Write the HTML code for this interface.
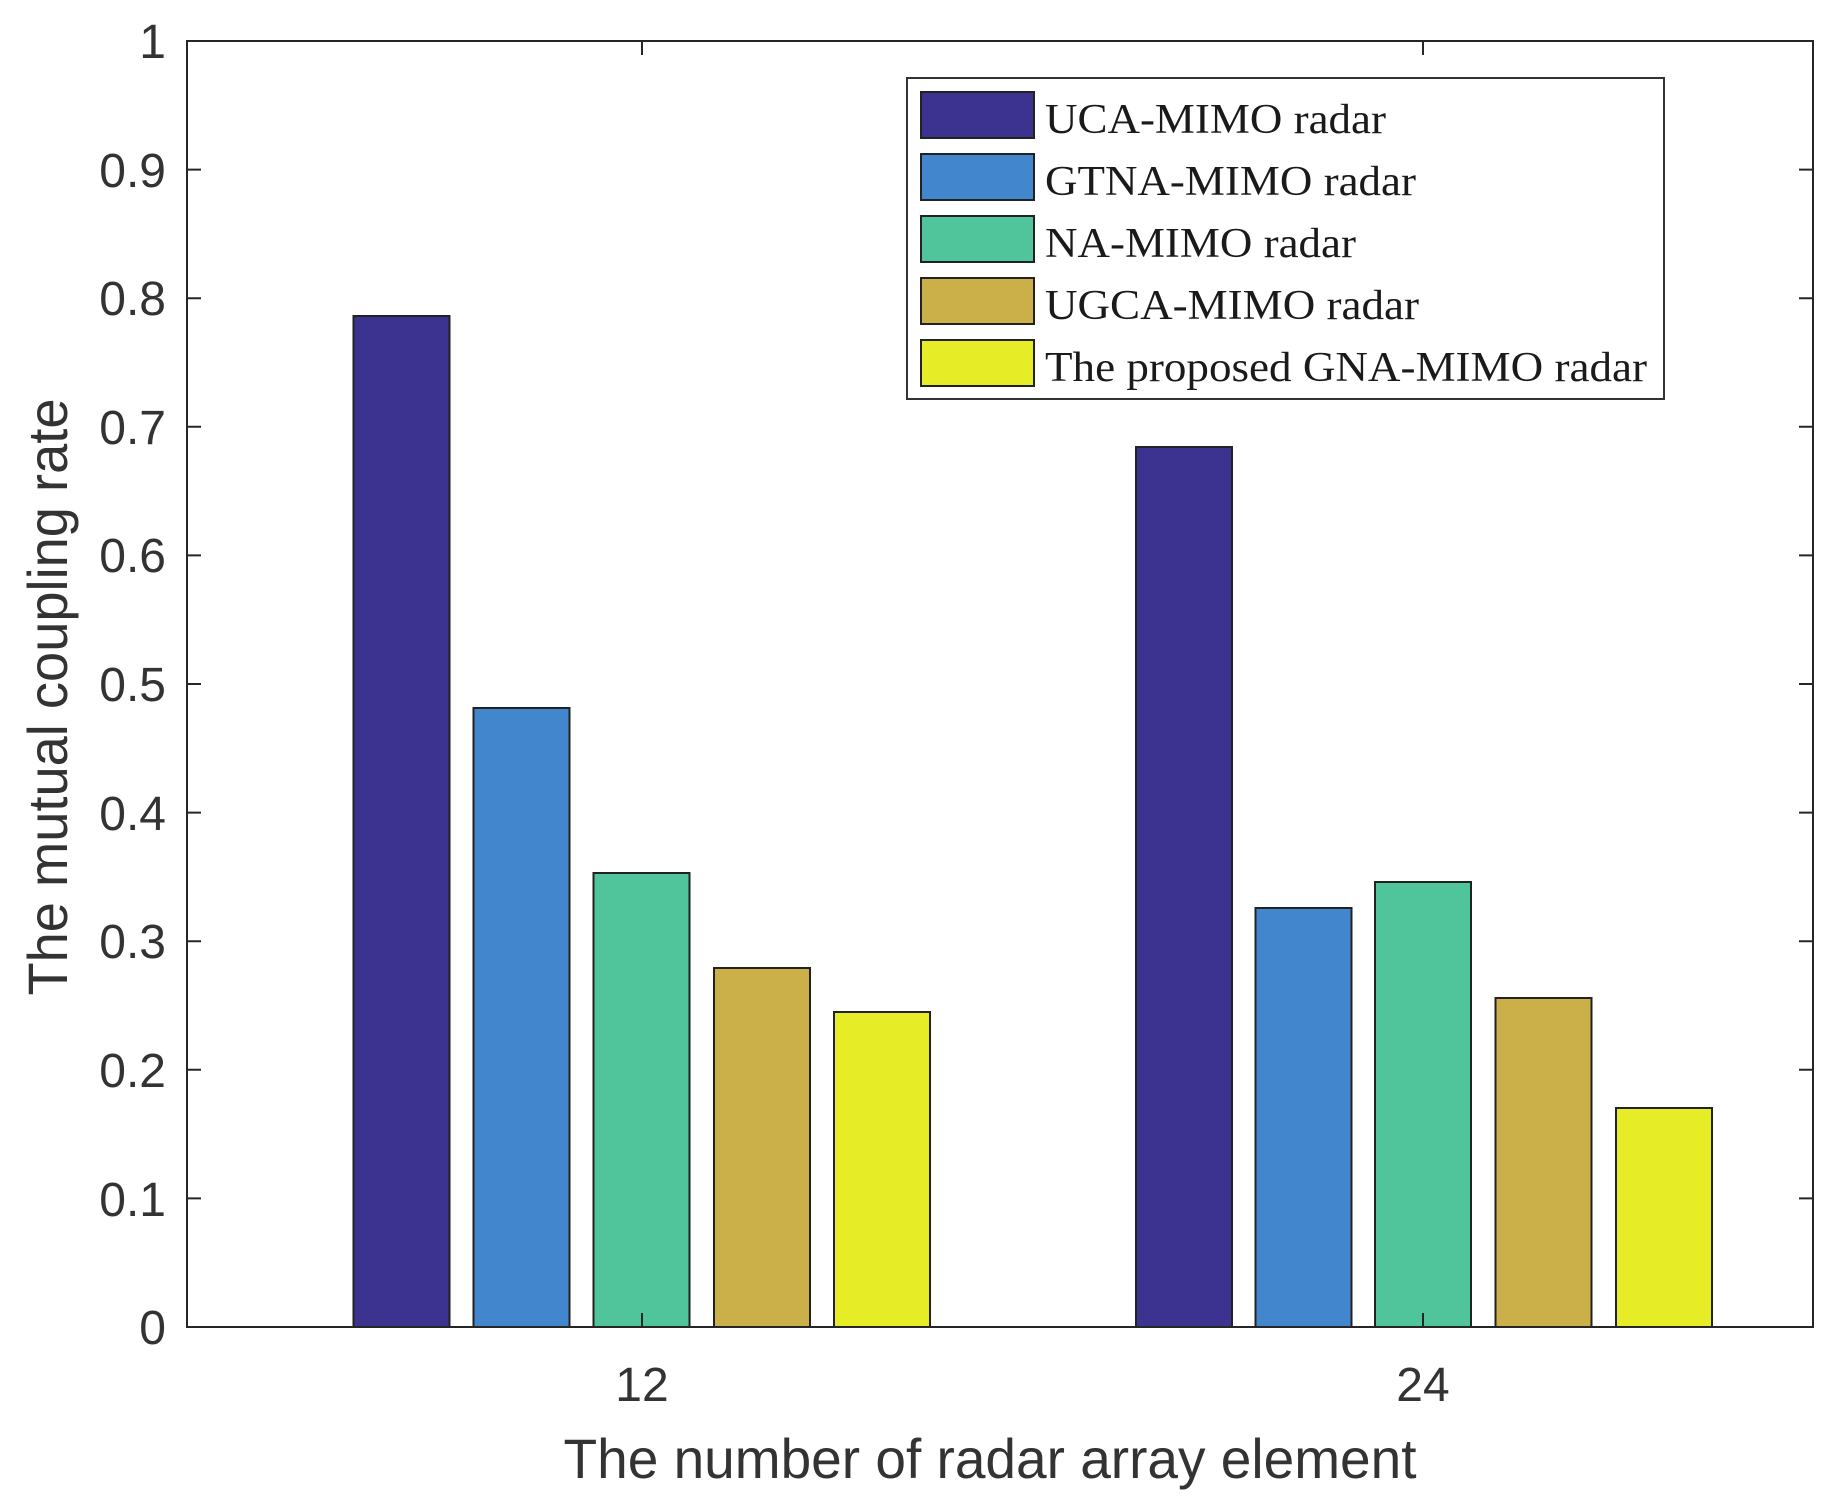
<!DOCTYPE html>
<html><head><style>body{margin:0;background:#fff}svg{display:block}</style></head><body>
<svg width="1836" height="1500" xmlns="http://www.w3.org/2000/svg">
<rect width="1836" height="1500" fill="#fff"/>
<g stroke="#222" stroke-width="2">
<rect x="353.5" y="316" width="96" height="1011" fill="#3c3390"/>
<rect x="473.5" y="708" width="96" height="619" fill="#4287ce"/>
<rect x="593.5" y="873" width="96" height="454" fill="#50c49a"/>
<rect x="714" y="968" width="96" height="359" fill="#cbaf49"/>
<rect x="834" y="1012" width="96" height="315" fill="#e6ec26"/>
<rect x="1136" y="447" width="96" height="880" fill="#3c3390"/>
<rect x="1255.5" y="908" width="96" height="419" fill="#4287ce"/>
<rect x="1375" y="882" width="96" height="445" fill="#50c49a"/>
<rect x="1495.5" y="998" width="96" height="329" fill="#cbaf49"/>
<rect x="1616" y="1108" width="96" height="219" fill="#e6ec26"/>
</g>
<g stroke="#262626" stroke-width="2" fill="none">
<rect x="187" y="41" width="1626" height="1286"/>
<path d="M187 1198.4h14M187 1069.8h14M187 941.2h14M187 812.6h14M187 684h14M187 555.4h14M187 426.8h14M187 298.2h14M187 169.6h14M1813 1198.4h-14M1813 1069.8h-14M1813 941.2h-14M1813 812.6h-14M1813 684h-14M1813 555.4h-14M1813 426.8h-14M1813 298.2h-14M1813 169.6h-14M642 1327v-14M642 41v14M1423 1327v-14M1423 41v14"/>
</g>
<g font-family="Liberation Sans, sans-serif" font-size="48" fill="#333" text-anchor="end">
<text x="166" y="1344">0</text><text x="166" y="1216">0.1</text><text x="166" y="1087">0.2</text><text x="166" y="958">0.3</text><text x="166" y="830">0.4</text><text x="166" y="701">0.5</text><text x="166" y="572">0.6</text><text x="166" y="444">0.7</text><text x="166" y="315">0.8</text><text x="166" y="187">0.9</text><text x="166" y="58">1</text>
</g>
<g font-family="Liberation Sans, sans-serif" font-size="48" fill="#333" text-anchor="middle">
<text x="642" y="1401">12</text><text x="1423" y="1401">24</text>
<text x="990" y="1478" font-size="56" textLength="853" lengthAdjust="spacingAndGlyphs">The number of radar array element</text>
<text transform="translate(67 697) rotate(-90)" font-size="56" textLength="597" lengthAdjust="spacingAndGlyphs">The mutual coupling rate</text>
</g>
<rect x="907" y="78" width="757" height="321" fill="#fff" stroke="#333" stroke-width="2"/>
<g stroke="#222" stroke-width="2">
<rect x="921" y="92" width="113" height="46" fill="#3c3390"/>
<rect x="921" y="154" width="113" height="46" fill="#4287ce"/>
<rect x="921" y="216" width="113" height="46" fill="#50c49a"/>
<rect x="921" y="278" width="113" height="46" fill="#cbaf49"/>
<rect x="921" y="340" width="113" height="46" fill="#e6ec26"/>
</g>
<g font-family="Liberation Serif, serif" font-size="42" fill="#1a1a1a">
<text x="1045" y="133" textLength="341" lengthAdjust="spacingAndGlyphs">UCA-MIMO radar</text>
<text x="1045" y="195" textLength="371" lengthAdjust="spacingAndGlyphs">GTNA-MIMO radar</text>
<text x="1045" y="257" textLength="311" lengthAdjust="spacingAndGlyphs">NA-MIMO radar</text>
<text x="1045" y="319" textLength="374" lengthAdjust="spacingAndGlyphs">UGCA-MIMO radar</text>
<text x="1045" y="381" textLength="602" lengthAdjust="spacingAndGlyphs">The proposed GNA-MIMO radar</text>
</g>
</svg>
</body></html>
